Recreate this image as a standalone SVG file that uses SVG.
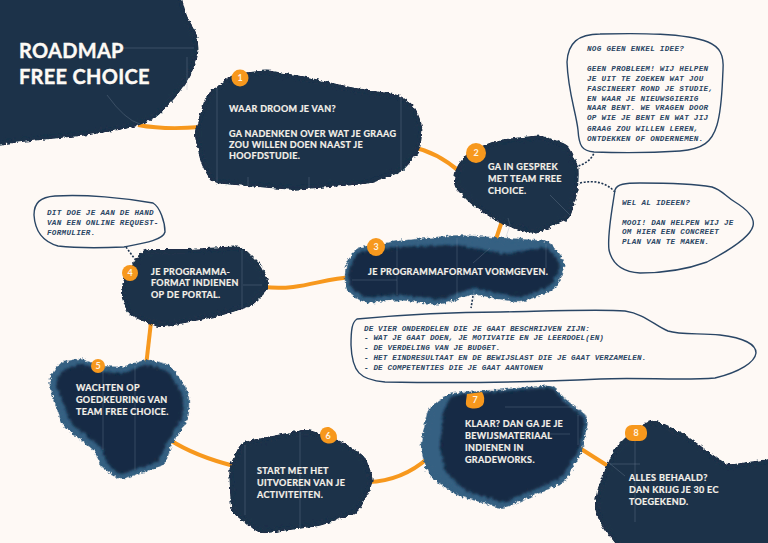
<svg xmlns="http://www.w3.org/2000/svg" width="768" height="543" viewBox="0 0 768 543">
<style>
.blob{fill:#1a3049;filter:url(#torn)}
.rim{fill:#356182;filter:url(#tornB)}
.inner{fill:#172b45;filter:url(#soft)}
.lab{font-family:Lato,"Noto Sans",sans-serif;font-weight:700;font-size:9px;letter-spacing:.33px;fill:#f5f1ea;stroke:#f5f1ea;stroke-width:.2}
.title{font-family:Lato,"Noto Sans",sans-serif;font-weight:700;font-size:20px;letter-spacing:.3px;fill:#fdfaf5;stroke:#fdfaf5;stroke-width:.4}
.hand{font-family:"Liberation Mono",monospace;font-style:italic;font-weight:700;font-size:7.6px;letter-spacing:.3px;fill:#2b4664}
.tight{letter-spacing:.15px}
.bub{fill:none;stroke:#2a4665;stroke-width:1.4}
.road{fill:none;stroke:#f7981d;stroke-width:4}
.dot{fill:none;stroke:#1d3450;stroke-width:1.6;stroke-dasharray:2 1.6}
.badge{fill:#f7981d}
.num{font-family:Lato,sans-serif;font-weight:700;font-size:9px;fill:#fdf3e3;text-anchor:middle}
.hair{fill:none;stroke:#8d9cad;stroke-opacity:.4;stroke-width:.7}
</style>
<defs>
<filter id="torn" x="-10%" y="-10%" width="120%" height="120%">
<feGaussianBlur in="SourceGraphic" stdDeviation="4"/>
<feComponentTransfer result="r"><feFuncA type="linear" slope="14" intercept="-6.5"/></feComponentTransfer>
<feTurbulence type="fractalNoise" baseFrequency=".25" numOctaves="3" seed="4" result="n"/>
<feDisplacementMap in="r" in2="n" scale="4" xChannelSelector="R" yChannelSelector="G"/>
</filter>
<filter id="tornB" x="-10%" y="-10%" width="120%" height="120%">
<feGaussianBlur in="SourceGraphic" stdDeviation="4"/>
<feComponentTransfer result="r"><feFuncA type="linear" slope="8" intercept="-3.5"/></feComponentTransfer>
<feTurbulence type="fractalNoise" baseFrequency=".3" numOctaves="3" seed="9" result="n"/>
<feDisplacementMap in="r" in2="n" scale="5" xChannelSelector="R" yChannelSelector="G"/>
</filter>
<filter id="soft" x="-10%" y="-10%" width="120%" height="120%">
<feGaussianBlur in="SourceGraphic" stdDeviation="3"/>
<feComponentTransfer result="r"><feFuncA type="linear" slope="5" intercept="-2"/></feComponentTransfer>
<feTurbulence type="fractalNoise" baseFrequency=".3" numOctaves="3" seed="2" result="n"/>
<feDisplacementMap in="r" in2="n" scale="5" xChannelSelector="R" yChannelSelector="G"/>
<feGaussianBlur stdDeviation="1"/>
</filter>
</defs>
<rect width="768" height="543" fill="#fef9f5"/>
<g id="connectors">
<path class="road" d="M138 125Q165 130 200 127"/>
<path class="road" d="M412 147Q437 152 460 172"/>
<path class="road" d="M503 218L495 242"/>
<path class="road" d="M264 287C300 291 320 279 352 277"/>
<path class="road" d="M151 322L146 366"/>
<path class="road" d="M170 440Q195 456 234 466"/>
<path class="road" d="M368 482Q402 481 428 458"/>
<path class="road" d="M578 447L608 466"/>
<path class="dot" d="M575 167Q590 163 594 153"/>
<path class="dot" d="M580 183Q602 178 615 192"/>
<path class="dot" d="M126 247L137 262"/>
<path class="dot" d="M473 296L471 308"/>
</g>
<g id="title">
<path class="blob" d="M-20 -20L177 -20L187 17L197 33L199 53L191 75L176 97L156 118L135 127L90 135L40 140L-20 147Z"/>
<path class="hair" d="M123 48H194M187 57V90M107 95Q125 120 140 124"/>
<text class="title" x="19" y="58">ROADMAP</text>
<text class="title" x="19" y="84">FREE CHOICE</text>
</g>
<g id="step1">
<path class="blob" d="M233 74L267 70L307 77L350 87L400 95L415 106L423 127L420 151L402 172L367 184L293 190L212 183L201 164L194 133L206 95Z"/>
<path class="hair" d="M217 88V182M401 97V170M248 177V186M309 177V188"/>
<circle class="badge" cx="240" cy="78" r="8.5"/><text class="num" x="240" y="81">1</text>
<text class="lab" x="229" y="112">WAAR DROOM JE VAN?</text>
<text class="lab" x="229" y="137">GA NADENKEN OVER WAT JE GRAAG</text>
<text class="lab" x="229" y="148">ZOU WILLEN DOEN NAAST JE</text>
<text class="lab" x="229" y="159">HOOFDSTUDIE.</text>
</g>
<g id="step2">
<path class="blob" d="M456 167L469 151L497 140L541 135L569 145L579 167L578 191L570 219L533 235L499 223L472 205L453 186Z"/>
<path class="hair" d="M550 195L570 215M505 240L510 225L508 218"/>
<circle class="badge" cx="476" cy="153" r="10"/><text class="num" x="476" y="156">2</text>
<text class="lab" x="488" y="170">GA IN GESPREK</text>
<text class="lab" x="488" y="182">MET TEAM FREE</text>
<text class="lab" x="488" y="194">CHOICE.</text>
</g>
<g id="step3">
<path class="rim" d="M345 267L355 248L397 241L457 235L507 238L549 241L566 263L556 289L520 303L473 294L440 305L400 300L363 303L345 289Z"/>
<path class="inner" d="M349 268L358 252L400 247L457 245L505 254L548 247L561 265L552 285L520 298L473 288L440 300L400 295L365 298L349 286Z"/>
<path class="hair" d="M397 245V295M457 238V300M546 244V268M352 280H397M474 290V300M473 263L490 248"/>
<circle class="badge" cx="376" cy="247" r="9"/><text class="num" x="376" y="250">3</text>
<text class="lab" x="368" y="275">JE PROGRAMMAFORMAT VORMGEVEN.</text>
</g>
<g id="step4">
<path class="blob" d="M143 249L187 249L242 246L262 266L271 287L252 306L220 316L160 328L128 315L120 293L126 272Z"/>
<path class="hair" d="M242 250V308M243 285H262"/>
<circle class="badge" cx="130" cy="273" r="8"/><text class="num" x="130" y="276">4</text>
<text class="lab" x="151" y="275">JE PROGRAMMA-</text>
<text class="lab" x="151" y="286">FORMAT INDIENEN</text>
<text class="lab" x="151" y="298">OP DE PORTAL.</text>
</g>
<g id="step5">
<path class="rim" d="M48 380L59 363L80 358L100 366L123 367L147 359L171 365L189 393L189 418L172 444L165 465L120 480L99 465L96 452L62 425Z"/>
<path class="inner" d="M55 382L64 369L84 364L102 372L123 373L147 364L168 371L183 395L183 416L168 441L159 461L120 475L105 461L103 449L71 423Z"/>
<path class="hair" d="M103 367V450M135 366V470"/>
<circle class="badge" cx="98" cy="366" r="7"/><text class="num" x="98" y="369">5</text>
<text class="lab" x="76" y="391">WACHTEN OP</text>
<text class="lab" x="76" y="403">GOEDKEURING VAN</text>
<text class="lab" x="76" y="415">TEAM FREE CHOICE.</text>
</g>
<g id="step6">
<path class="blob" d="M229 467L241 442L307 429L341 441L365 456L374 480L359 512L320 526L260 534L231 512Z"/>
<path class="hair" d="M245 445V515M300 432V528"/>
<path class="badge" d="M320 433Q322 426 329 427Q338 431 337 439Q333 445 326 443Q320 441 320 433Z"/><text class="num" x="328" y="439">6</text>
<text class="lab" x="257" y="474">START MET HET</text>
<text class="lab" x="257" y="486">UITVOEREN VAN JE</text>
<text class="lab" x="257" y="498">ACTIVITEITEN.</text>
</g>
<g id="step7">
<path class="rim" d="M420 447L428 408L450 393L483 391L553 385L565 399L589 417L582 451L565 482L503 509L456 495L428 475Z"/>
<path class="inner" d="M440 447L443 412L452 395L483 393L553 387L563 401L586 419L579 450L561 478L503 503L464 490L445 471Z"/>
<path class="hair" d="M505 407H578M547 434H570M578 415V445"/>
<path class="badge" d="M467 394L482 392Q486 398 483 405Q478 410 470 408Q465 407 466 401Z"/><text class="num" x="475" y="403">7</text>
<text class="lab" x="465" y="427">KLAAR? DAN GA JE JE</text>
<text class="lab" x="465" y="439">BEWIJSMATERIAAL</text>
<text class="lab" x="465" y="451">INDIENEN IN</text>
<text class="lab" x="465" y="463">GRADEWORKS.</text>
</g>
<g id="step8">
<path class="blob" d="M597 490L613 450L633 430L653 419L683 433L727 465L790 456L790 570L637 570L603 528L594 508Z"/>
<path class="hair" d="M635 440V522M610 464H640M608 462L625 476"/>
<rect class="badge" x="625" y="425" width="22" height="16" rx="7"/><text class="num" x="636" y="436">8</text>
<text class="lab" x="629" y="481">ALLES BEHAALD?</text>
<text class="lab" x="629" y="493">DAN KRIJG JE 30 EC</text>
<text class="lab" x="629" y="505">TOEGEKEND.</text>
</g>
<g id="note-a">
<path class="bub" d="M567 62C568 43 578 34 600 34C640 33 685 33 708 42C720 47 724 55 723 70C722 90 722 108 717 125C712 142 703 149 680 151C650 153 620 153 594 152C582 151 579 146 578 130C576 112 568 92 567 62Z"/>
<text class="hand" x="587" y="51">NOG GEEN ENKEL IDEE?</text>
<text class="hand" x="587" y="71">GEEN PROBLEEM! WIJ HELPEN</text>
<text class="hand" x="587" y="81">JE UIT TE ZOEKEN WAT JOU</text>
<text class="hand" x="587" y="91">FASCINEERT ROND JE STUDIE,</text>
<text class="hand" x="587" y="101">EN WAAR JE NIEUWSGIERIG</text>
<text class="hand" x="587" y="110">NAAR BENT. WE VRAGEN DOOR</text>
<text class="hand" x="587" y="120">OP WIE JE BENT EN WAT JIJ</text>
<text class="hand" x="587" y="131">GRAAG ZOU WILLEN LEREN,</text>
<text class="hand" x="587" y="141">ONTDEKKEN OF ONDERNEMEN.</text>
</g>
<g id="note-b">
<path class="bub" d="M615 190C617 184 625 183 640 183C665 183 695 184 712 187C722 190 725 196 735 202C748 210 755 218 753 226C750 238 728 251 707 262C685 270 660 273 640 273C622 272 612 263 609 250C607 235 612 210 615 190Z"/>
<text class="hand" x="622" y="205">WEL AL IDEEEN?</text>
<text class="hand" x="622" y="225">MOOI! DAN HELPEN WIJ JE</text>
<text class="hand" x="622" y="234">OM HIER EEN CONCREET</text>
<text class="hand" x="622" y="244">PLAN VAN TE MAKEN.</text>
</g>
<g id="note-c">
<path class="bub" d="M34 215C34 203 40 197 55 196C85 194 125 198 153 203C160 207 165 222 165 232C163 240 145 243 124 247C100 248 75 248 58 246C44 242 35 232 34 215Z"/>
<text class="hand" x="47" y="215">DIT DOE JE AAN DE HAND</text>
<text class="hand" x="47" y="225">VAN EEN ONLINE REQUEST-</text>
<text class="hand" x="47" y="235">FORMULIER.</text>
</g>
<g id="note-d">
<path class="bub" d="M357 319C400 315 440 312 500 312C550 311 600 309 625 311C645 314 655 326 668 331C680 335 700 333 720 335C745 338 756 345 756 353C755 362 740 372 715 378C680 381 640 377 600 379C540 382 450 383 385 382C360 380 352 372 351 345C351 330 352 322 357 319Z"/>
<text class="hand tight" x="364" y="331">DE VIER ONDERDELEN DIE JE GAAT BESCHRIJVEN ZIJN:</text>
<text class="hand tight" x="364" y="340">- WAT JE GAAT DOEN, JE MOTIVATIE EN JE LEERDOEL(EN)</text>
<text class="hand tight" x="364" y="350">- DE VERDELING VAN JE BUDGET.</text>
<text class="hand tight" x="364" y="360">- HET EINDRESULTAAT EN DE BEWIJSLAST DIE JE GAAT VERZAMELEN.</text>
<text class="hand tight" x="364" y="370">- DE COMPETENTIES DIE JE GAAT AANTONEN</text>
</g>
</svg>
